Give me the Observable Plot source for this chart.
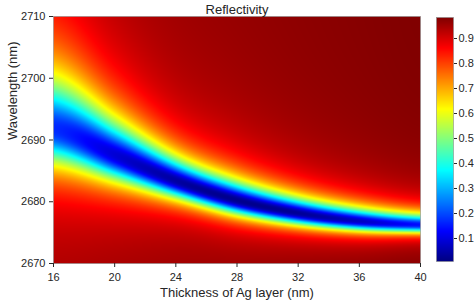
<!DOCTYPE html>
<html>
<head>
<meta charset="utf-8">
<script src="https://cdn.jsdelivr.net/npm/d3@7"></script>
<script src="https://cdn.jsdelivr.net/npm/@observablehq/plot@0.6"></script>
<style>
  body { margin: 0; background: #fff; }
  #wrap { position: relative; width: 474px; height: 306px; font-family: "Liberation Sans", Arial, sans-serif; }
  #wrap svg { position: absolute; top: 0; overflow: visible; }
</style>
</head>
<body>
<div id="wrap"></div>
<script>
// Reflectivity dip of the Ag-layer structure, sampled at these thicknesses (nm)
const thickness = [16, 20, 24, 28, 32, 36, 40];
// wavelength of the reflectivity minimum (nm)
const dipWavelength = [2692.0, 2687.7, 2683.5, 2680.3, 2678.2, 2676.9, 2676.3];
// reflectivity at the minimum
const dipMinimum = [0.17, 0.09, 0.04, 0.02, 0.03, 0.07, 0.14];
// half widths of the dip on the long- and short-wavelength sides (nm)
const halfWidthLong = [7.8, 5.2, 3.4, 2.8, 2.3, 1.95, 1.7];
const halfWidthShort = [5.6, 4.0, 2.7, 2.2, 1.8, 1.5, 1.25];
// off-resonance reflectivity
const baseline = [0.96, 0.962, 0.965, 0.97, 0.975, 0.98, 0.985];

const thicknessTicks = [16, 20, 24, 28, 32, 36, 40];
const wavelengthTicks = [2670, 2680, 2690, 2700, 2710];
const reflectivityTicks = [0.1, 0.2, 0.3, 0.4, 0.5, 0.6, 0.7, 0.8, 0.9];
const thicknessRange = [16, 40];
const wavelengthRange = [2670, 2710];
const reflectivityRange = [0.008, 0.984];

// smooth (Catmull-Rom) lookup of a parameter between sampled thicknesses
function lookup(values, t) {
  const n = values.length;
  const u = (t - thickness[0]) / (thickness[1] - thickness[0]);
  const i = Math.max(0, Math.min(n - 2, Math.floor(u)));
  const f = u - i;
  const p0 = values[Math.max(i - 1, 0)], p1 = values[i];
  const p2 = values[i + 1], p3 = values[Math.min(i + 2, n - 1)];
  return 0.5 * ((2 * p1) + (-p0 + p2) * f + (2 * p0 - 5 * p1 + 4 * p2 - p3) * f * f + (-p0 + 3 * p1 - 3 * p2 + p3) * f * f * f);
}

// reflectivity at thickness t and wavelength w: asymmetric resonance dip
function reflectivity(t, w) {
  const c = lookup(dipWavelength, t);
  const rb = lookup(baseline, t);
  const depth = rb - lookup(dipMinimum, t);
  let shape;
  if (w >= c) {
    const x = (w - c) / lookup(halfWidthLong, t);
    shape = 1 / (1 + x * x);
  } else {
    const x = (c - w) / lookup(halfWidthShort, t);
    shape = 1 / (1 + Math.pow(x, 2.5));
  }
  return rb - depth * shape;
}

// MATLAB-style jet colormap
function jet(t) {
  const c = v => Math.max(0, Math.min(1, v));
  const r = c(1.5 - Math.abs(4 * t - 3));
  const g = c(1.5 - Math.abs(4 * t - 2));
  const b = c(1.5 - Math.abs(4 * t - 1));
  return `rgb(${Math.round(r * 255)},${Math.round(g * 255)},${Math.round(b * 255)})`;
}

const ink = "#262626";
const colorScale = {type: "linear", domain: reflectivityRange, interpolate: jet, clamp: true};

const main = Plot.plot({
  width: 430,
  height: 306,
  marginTop: 16,
  marginRight: 10,
  marginBottom: 43,
  marginLeft: 53,
  style: {color: ink, fontFamily: "Liberation Sans, Arial, sans-serif", background: "transparent"},
  x: {domain: thicknessRange},
  y: {domain: wavelengthRange},
  color: colorScale,
  marks: [
    Plot.raster({
      fill: (x, y) => reflectivity(x, y),
      x1: thicknessRange[0], x2: thicknessRange[1],
      y1: wavelengthRange[0], y2: wavelengthRange[1],
      pixelSize: 1
    }),
    Plot.frame({stroke: "#8a8a8a", strokeWidth: 0.6}),
    Plot.axisX({ticks: thicknessTicks, tickSize: 4, tickPadding: 6, fontSize: 11, label: null}),
    Plot.axisY({ticks: wavelengthTicks, tickFormat: d3.format("d"), tickSize: 4, tickPadding: 4, fontSize: 11, label: null}),
    Plot.text(["Reflectivity"], {frameAnchor: "top", dy: -3, lineAnchor: "bottom", fontSize: 13, fill: ink}),
    Plot.text(["Thickness of Ag layer (nm)"], {frameAnchor: "bottom", dy: 33, fontSize: 13, fill: ink}),
    Plot.text(["Wavelength (nm)"], {frameAnchor: "left", dx: -41, rotate: -90, fontSize: 13, fill: ink})
  ]
});
main.style.left = "0px";

const bar = Plot.plot({
  width: 44,
  height: 306,
  marginTop: 17,
  marginBottom: 45,
  marginLeft: 6,
  marginRight: 21,
  style: {color: ink, fontFamily: "Liberation Sans, Arial, sans-serif", background: "transparent"},
  x: {domain: [0, 1], axis: null},
  y: {domain: reflectivityRange},
  color: colorScale,
  marks: [
    Plot.raster({
      fill: (x, y) => y,
      x1: 0, x2: 1,
      y1: reflectivityRange[0], y2: reflectivityRange[1],
      pixelSize: 1
    }),
    Plot.frame({stroke: "#8a8a8a", strokeWidth: 0.6}),
    Plot.axisY({anchor: "right", ticks: reflectivityTicks, tickFormat: d3.format(".1f"), tickSize: 3, tickPadding: 2, fontSize: 11, label: null})
  ]
});
bar.style.left = "430px";

const wrap = document.getElementById("wrap");
wrap.append(main, bar);
</script>
</body>
</html>
